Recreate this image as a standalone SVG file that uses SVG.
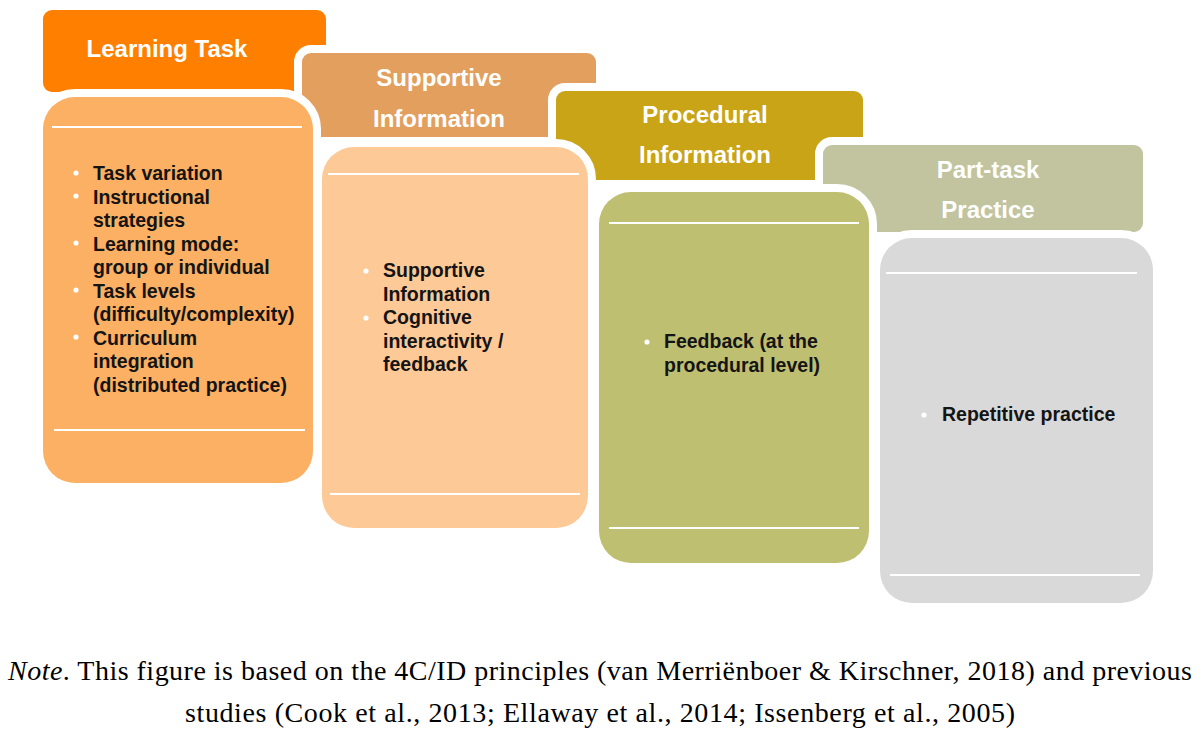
<svg xmlns="http://www.w3.org/2000/svg" width="1200" height="740" viewBox="0 0 1200 740">
<style>
.shape{stroke:#ffffff;stroke-width:16;paint-order:stroke;stroke-linejoin:round}
.title{font-family:"Liberation Sans",Arial,sans-serif;font-weight:bold;font-size:24px;fill:#ffffff;text-anchor:middle}
.item{font-family:"Liberation Sans",Arial,sans-serif;font-weight:bold;font-size:19.5px;fill:#141414}
.rule{stroke:#ffffff;stroke-width:2.2}
.dot{fill:#ffffff}
.cap{font-family:"Liberation Serif","Times New Roman",serif;font-size:28px;fill:#000000}
</style>
<rect width="1200" height="740" fill="#ffffff"/>
<g id="headers">
<g id="learning-task-header">
<rect class="shape" x="43" y="10" width="283" height="82" rx="9" fill="#FF8000"/>
<text class="title" x="167" y="57">Learning Task</text>
</g>
<g id="supportive-information-header">
<rect class="shape" x="302" y="53" width="294" height="84" rx="9" fill="#E39F5E"/>
<text class="title" x="439" y="86">Supportive</text>
<text class="title" x="439" y="127">Information</text>
</g>
<g id="procedural-information-header">
<rect class="shape" x="556" y="91" width="307" height="89" rx="9" fill="#C8A416"/>
<text class="title" x="705" y="123">Procedural</text>
<text class="title" x="705" y="163">Information</text>
</g>
<g id="part-task-practice-header">
<rect class="shape" x="823" y="145" width="320" height="87" rx="9" fill="#C1C49E"/>
<text class="title" x="988" y="178">Part-task</text>
<text class="title" x="988" y="218">Practice</text>
</g>
</g>
<g id="bodies">
<g id="learning-task-body">
<rect class="shape" x="43" y="97" width="270" height="386" rx="32" fill="#FCB063"/>
<line class="rule" x1="52" y1="127" x2="302" y2="127"/>
<line class="rule" x1="54" y1="430" x2="305" y2="430"/>
<circle class="dot" cx="76" cy="173" r="2.6"/>
<circle class="dot" cx="76" cy="196" r="2.6"/>
<circle class="dot" cx="76" cy="243" r="2.6"/>
<circle class="dot" cx="76" cy="290" r="2.6"/>
<circle class="dot" cx="76" cy="337" r="2.6"/>
<text class="item" x="93" y="180">Task variation</text>
<text class="item" x="93" y="203.5">Instructional</text>
<text class="item" x="93" y="227">strategies</text>
<text class="item" x="93" y="250.5">Learning mode:</text>
<text class="item" x="93" y="274">group or individual</text>
<text class="item" x="93" y="297.5">Task levels</text>
<text class="item" x="93" y="321">(difficulty/complexity)</text>
<text class="item" x="93" y="344.5">Curriculum</text>
<text class="item" x="93" y="368">integration</text>
<text class="item" x="93" y="391.5">(distributed practice)</text>
</g>
<g id="supportive-information-body">
<rect class="shape" x="322" y="147" width="266" height="381" rx="32" fill="#FDC997"/>
<line class="rule" x1="328" y1="174" x2="579" y2="174"/>
<line class="rule" x1="330" y1="494" x2="580" y2="494"/>
<circle class="dot" cx="366" cy="271" r="2.6"/>
<circle class="dot" cx="366" cy="318" r="2.6"/>
<text class="item" x="383" y="277">Supportive</text>
<text class="item" x="383" y="300.5">Information</text>
<text class="item" x="383" y="324">Cognitive</text>
<text class="item" x="383" y="347.5">interactivity /</text>
<text class="item" x="383" y="371">feedback</text>
</g>
<g id="procedural-information-body">
<rect class="shape" x="599" y="192" width="270" height="371" rx="32" fill="#BFBF72"/>
<line class="rule" x1="609" y1="223" x2="859" y2="223"/>
<line class="rule" x1="609" y1="528" x2="859" y2="528"/>
<circle class="dot" cx="647" cy="342" r="2.6"/>
<text class="item" x="664" y="348">Feedback (at the</text>
<text class="item" x="664" y="372">procedural level)</text>
</g>
<g id="part-task-practice-body">
<rect class="shape" x="880" y="238" width="273" height="365" rx="32" fill="#D9D9D9"/>
<line class="rule" x1="886" y1="273" x2="1137" y2="273"/>
<line class="rule" x1="890" y1="575" x2="1140" y2="575"/>
<circle class="dot" cx="924" cy="415" r="2.6"/>
<text class="item" x="942" y="421">Repetitive practice</text>
</g>
</g>
<g id="connectors"></g>
<g id="caption">
<text class="cap" x="8" y="680" textLength="1184" lengthAdjust="spacing"><tspan font-style="italic">Note</tspan>. This figure is based on the 4C/ID principles (van Merriënboer &amp; Kirschner, 2018) and previous</text>
<text class="cap" x="185" y="722" textLength="830" lengthAdjust="spacing">studies (Cook et al., 2013; Ellaway et al., 2014; Issenberg et al., 2005)</text>
</g>
</svg>
